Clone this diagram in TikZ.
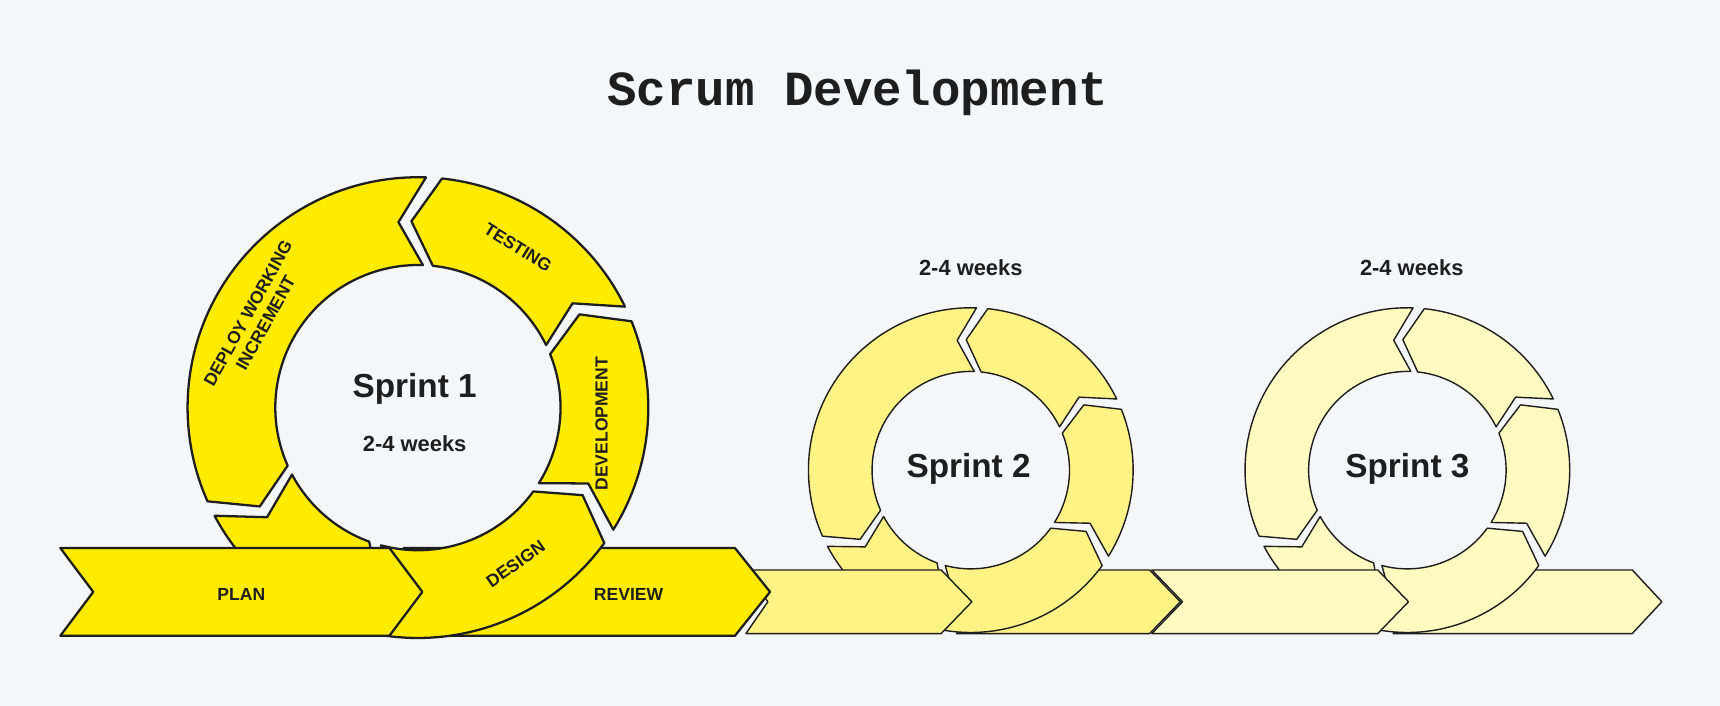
\documentclass[tikz,border=0pt]{standalone}
\usepackage{fontspec}
\setmainfont{Liberation Sans}
\newfontfamily\titlefont{Liberation Mono}
\usepackage{tikz}

\definecolor{bg}{HTML}{F5F6F8}
\definecolor{ink}{HTML}{1E1E1E}
\definecolor{yone}{HTML}{FFEB00}
\definecolor{ytwo}{HTML}{FFF385}
\definecolor{ythree}{HTML}{FFFAC0}

% one arrow piece of a ring: #2 = clockwise end, #3 = head end
\newcommand\ringseg[3]{%
  \filldraw[#1] (#2:\Ro) arc[start angle=#2,end angle=#3,radius=\Ro]
    -- ({#3+8}:\Rm) -- (#3:\Ri) arc[start angle=#3,end angle=#2,radius=\Ri]
    -- ({#2+8}:\Rm) -- cycle;}

\tikzset{
  sone/.style={fill=yone,draw=ink,line width=1.3pt,line join=round},
  stwo/.style={fill=ytwo,draw=ink,line width=0.8pt,line join=round},
  sthree/.style={fill=ythree,draw=ink,line width=0.8pt,line join=round},
  lab/.style={font=\bfseries\fontsize{10}{11.5}\selectfont,text=ink,align=center},
  big/.style={font=\bfseries\fontsize{19}{22}\selectfont,text=ink},
  weeks/.style={font=\bfseries\fontsize{12.5}{14}\selectfont,text=ink},
}

\begin{document}
\begin{tikzpicture}[x=0.022cm,y=0.022cm]
    \fill[bg] (0,0) rectangle (1568,643.6);
    \useasboundingbox (0,0) rectangle (1568,643.6);

    \node[font=\titlefont\bfseries\fontsize{28}{30}\selectfont,text=ink] (title) at (782,559) {Scrum Development};

    % sprint 3
    \begin{scope}[shift={(1283,215)}]
      \def\Ro{148}\def\Ri{90}\def\Rm{119}
      \ringseg{sthree}{208}{250}
    \end{scope}
    \filldraw[sthree] (1270,124) -- (1488,124) -- (1515,95) -- (1488,66) -- (1270,66) -- (1298,95) -- cycle;
    \begin{scope}[shift={(1283,215)}]
      \def\Ro{148}\def\Ri{90}\def\Rm{119}
      \ringseg{sthree}{-105}{-36}
      \ringseg{sthree}{-32}{22}
      \ringseg{sthree}{26}{84}
      \ringseg{sthree}{88}{204}
    \end{scope}
    \filldraw[sthree] (1050,124) -- (1256,124) -- (1284,95) -- (1256,66) -- (1050,66) -- (1078,95) -- cycle;
    \node[big] (s3) at (1283,216) {Sprint 3};
    \node[weeks] (w3) at (1287,400) {2-4 weeks};

    % sprint 2
    \begin{scope}[shift={(885,215)}]
      \def\Ro{148}\def\Ri{90}\def\Rm{119}
      \ringseg{stwo}{208}{250}
    \end{scope}
    \filldraw[stwo] (872,124) -- (1048,124) -- (1076,95) -- (1048,66) -- (872,66) -- (900,95) -- cycle;
    \begin{scope}[shift={(885,215)}]
      \def\Ro{148}\def\Ri{90}\def\Rm{119}
      \ringseg{stwo}{-105}{-36}
      \ringseg{stwo}{-32}{22}
      \ringseg{stwo}{26}{84}
      \ringseg{stwo}{88}{204}
    \end{scope}
    \filldraw[stwo] (680,124) -- (858,124) -- (886,95) -- (858,66) -- (680,66) -- (700,95) -- cycle;
    \node[big] (s2) at (883,216) {Sprint 2};
    \node[weeks] (w2) at (885,400) {2-4 weeks};

    % sprint 1
    \begin{scope}[shift={(381,272)}]
      \def\Ro{210}\def\Ri{130}\def\Rm{170}
      \ringseg{sone}{208}{250}
    \end{scope}
    \filldraw[sone] (368,144) -- (670,144) -- (702,104) -- (670,64) -- (368,64) -- (398,104) -- cycle;
    \begin{scope}[shift={(381,272)}]
      \def\Ro{210}\def\Ri{130}\def\Rm{170}
      \ringseg{sone}{-105}{-36}
      \ringseg{sone}{-32}{22}
      \ringseg{sone}{26}{84}
      \ringseg{sone}{88}{204}
      \node[lab,rotate=-32] (testing) at (58:172) {TESTING};
      \node[lab,rotate=61] (deploy) at (151:168) {DEPLOY WORKING\\INCREMENT};
      \node[lab,rotate=90] (devel) at (-5:168) {DEVELOPMENT};
      \node[lab,rotate=35] (design) at (-58:168) {DESIGN};
    \end{scope}
    \filldraw[sone] (55,144) -- (355,144) -- (385,104) -- (355,64) -- (55,64) -- (85,104) -- cycle;
    \node[lab] (plan) at (220,102) {PLAN};
    \node[lab] (review) at (573,102) {REVIEW};
    \node[big] (s1) at (378,289) {Sprint 1};
    \node[weeks] (w1) at (378,239) {2-4 weeks};
\end{tikzpicture}
\end{document}
